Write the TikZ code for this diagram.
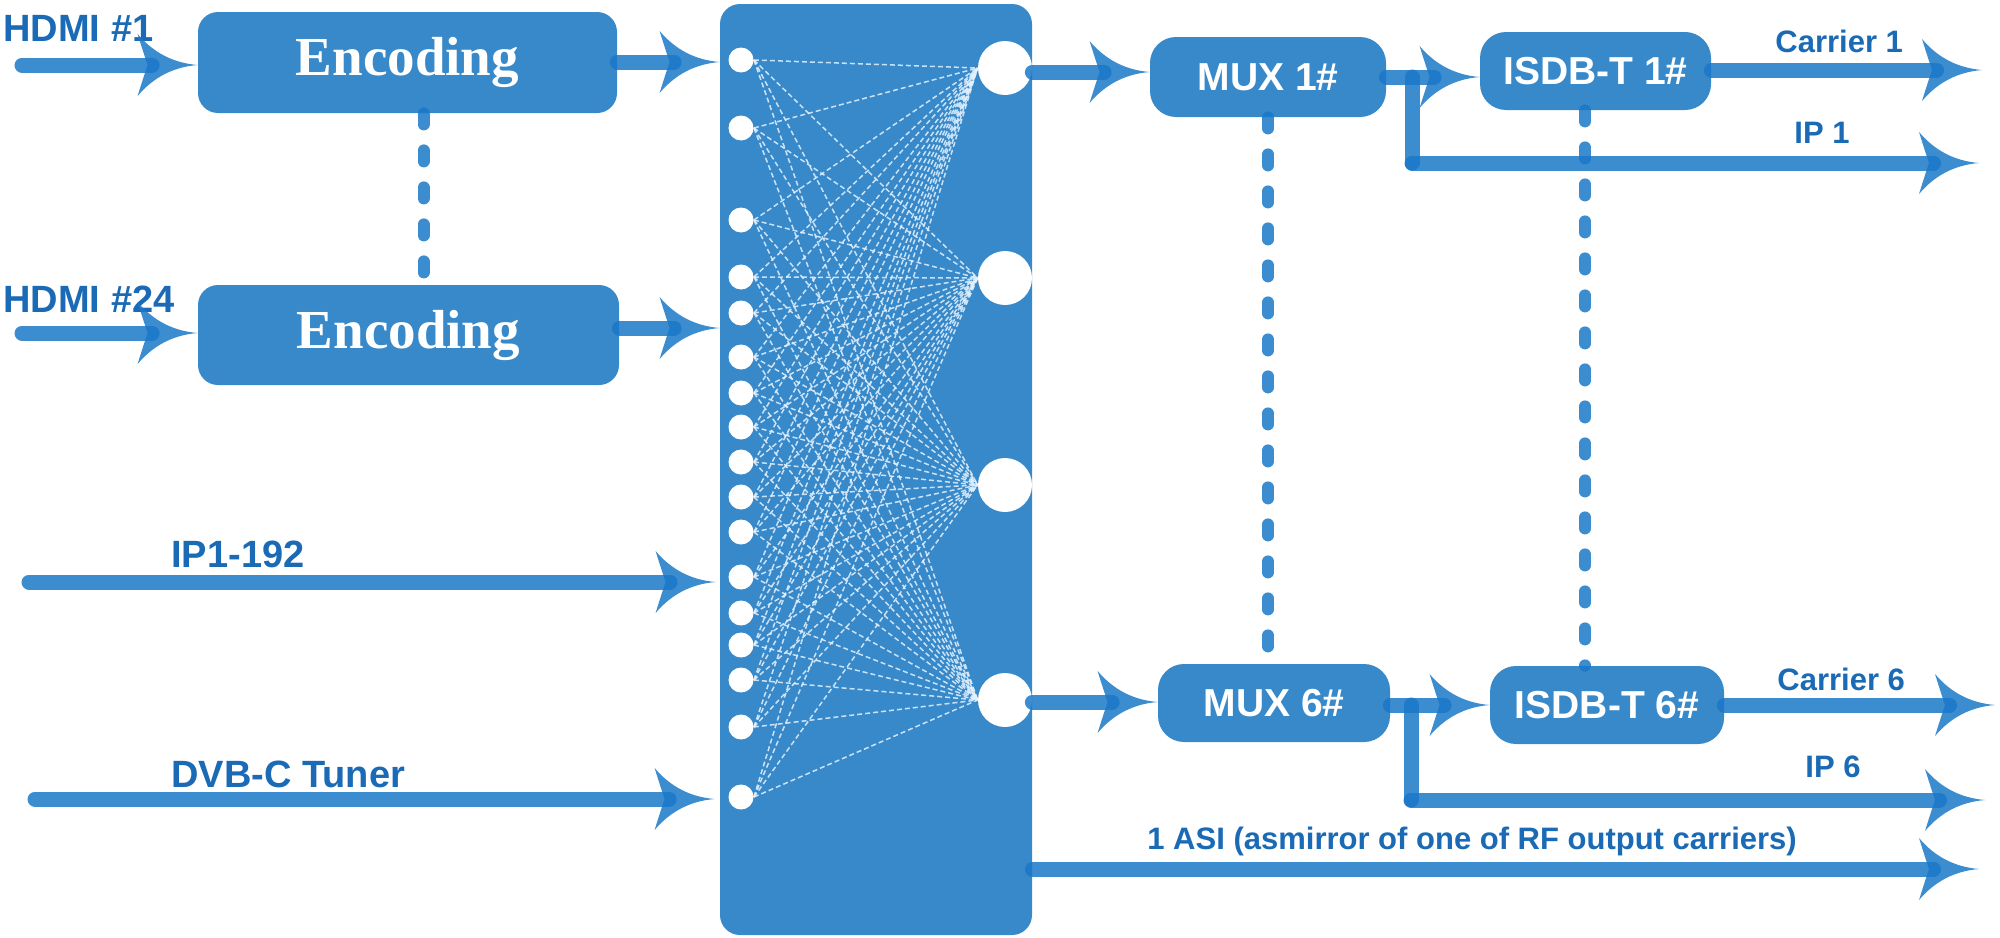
\documentclass[tikz,border=0pt]{standalone}
\usepackage{fontspec}
\setmainfont{Liberation Serif}
\setsansfont{Liberation Sans}
\definecolor{boxblue}{HTML}{3889CA}
\definecolor{linkblue}{HTML}{1A78C8}
\definecolor{labelblue}{HTML}{1A6AB6}
\definecolor{meshwhite}{HTML}{E4F2FF}

\pgfdeclarearrow{
  name = Swoop,
  setup code = {
    \pgfarrowssettipend{0pt}
    \pgfarrowssetlineend{-22.75pt}
    \pgfarrowssetbackend{-30pt}
    \pgfarrowssetvisualbackend{-25pt}
    \pgfarrowsupperhullpoint{-30pt}{15.5pt}
    \pgfarrowshullpoint{0pt}{0pt}
  },
  drawing code = {
    \pgfpathmoveto{\pgfqpoint{0pt}{0pt}}
    \pgfpathcurveto{\pgfqpoint{-12pt}{1pt}}{\pgfqpoint{-22pt}{6pt}}{\pgfqpoint{-30pt}{15.5pt}}
    \pgfpathcurveto{\pgfqpoint{-28pt}{9pt}}{\pgfqpoint{-26pt}{3pt}}{\pgfqpoint{-25pt}{0pt}}
    \pgfpathcurveto{\pgfqpoint{-26pt}{-3pt}}{\pgfqpoint{-28pt}{-9pt}}{\pgfqpoint{-30pt}{-15.5pt}}
    \pgfpathcurveto{\pgfqpoint{-22pt}{-6pt}}{\pgfqpoint{-12pt}{-1pt}}{\pgfqpoint{0pt}{0pt}}
    \pgfpathclose
    \pgfusepathqfill
  }
}

\begin{document}
\begin{tikzpicture}[x=0.5pt,y=-0.5pt,
  flow/.style={draw=linkblue, line width=7.5pt, line cap=round, opacity=0.85, -Swoop},
  seg/.style={draw=linkblue, line width=7.5pt, line cap=round, opacity=0.85},
  encbox/.style={fill=boxblue, draw=none, rounded corners=10pt, inner sep=0pt, text=white,
    font=\rmfamily\bfseries\fontsize{27.5}{30}\selectfont},
  pill/.style={fill=boxblue, draw=none, rounded corners=13pt, inner sep=0pt, text=white,
    font=\sffamily\bfseries\fontsize{19.5}{22}\selectfont},
  biglabel/.style={text=labelblue, anchor=base west, inner sep=0pt,
    font=\sffamily\bfseries\fontsize{19}{22}\selectfont},
  smalllabel/.style={text=labelblue, anchor=base west, inner sep=0pt,
    font=\sffamily\bfseries\fontsize{15.5}{18}\selectfont},
  dotlink/.style={draw=linkblue, line width=6pt, line cap=round, dash pattern=on 5.5pt off 13pt, opacity=0.85},
  incirc/.style={circle, fill=white, draw=none, minimum size=12.5pt, inner sep=0pt},
  outcirc/.style={circle, fill=white, draw=none, minimum size=27pt, inner sep=0pt},
  xlink/.style={draw=meshwhite, line width=0.75pt, dash pattern=on 2.5pt off 1.5pt, opacity=0.85}
]
\useasboundingbox (0,0) rectangle (2000,937);
\fill[white] (0,0) rectangle (2000,937);

% switching matrix
\node[fill=boxblue, draw=none, rounded corners=10pt, inner sep=0pt,
      minimum width=156pt, minimum height=465.5pt] (mtx) at (876,469.5) {};

% input / output ports
\foreach \y [count=\i] in {60,128,220,277,313,357,393,427,462,497,532,577,613,645,680,727,797}
  \node[incirc] (i\i) at (741,\y) {};
\foreach \y [count=\j] in {68,278,485,700}
  \node[outcirc] (o\j) at (1005,\y) {};
\foreach \i in {1,...,17}
  \foreach \j in {1,...,4}
    \draw[xlink] (i\i.east) -- (o\j.west);

% blocks
\node[encbox, minimum width=209.5pt, minimum height=50.5pt] (enc1) at (407.5,62.5) {Encoding};
\node[encbox, minimum width=210.5pt, minimum height=50pt] (enc2) at (408.5,335) {Encoding};
\node[pill, minimum width=118pt, minimum height=40pt] (mux1) at (1268,77) {MUX 1\#};
\node[pill, minimum width=115.5pt, minimum height=39pt] (isdb1) at (1595.5,71) {ISDB-T 1\#};
\node[pill, minimum width=116pt, minimum height=39pt] (mux6) at (1274,703) {MUX 6\#};
\node[pill, minimum width=117pt, minimum height=39pt] (isdb6) at (1607,705) {ISDB-T 6\#};

% labels
\node[biglabel] (lh1) at (3,41) {HDMI \#1};
\node[biglabel] (lh24) at (3,312) {HDMI \#24};
\node[biglabel] (lip) at (171,567) {IP1-192};
\node[biglabel] (ldvb) at (171,787) {DVB-C Tuner};
\node[smalllabel] (lc1) at (1775,52) {Carrier 1};
\node[smalllabel] (lip1) at (1794,143) {IP 1};
\node[smalllabel] (lc6) at (1777,690) {Carrier 6};
\node[smalllabel] (lip6) at (1805,777) {IP 6};
\node[smalllabel] (lasi) at (1147,849) {1 ASI (asmirror of one of RF output carriers)};

% free ends
\coordinate (h1s) at (22,65);
\coordinate (h24s) at (22,333);
\coordinate (ips) at (29,582);
\coordinate (dvbs) at (35,799);
\coordinate (c1e) at (1982,70);
\coordinate (b1) at (1412,77);
\coordinate (b1c) at (1412,163);
\coordinate (ip1e) at (1979,163);
\coordinate (c6e) at (1995,705);
\coordinate (b6) at (1411,705);
\coordinate (b6c) at (1411,800);
\coordinate (ip6e) at (1985,800);
\coordinate (asie) at (1979,869);

% dotted ellipsis links
\draw[dotlink] ([xshift=8pt]enc1.south) -- ([xshift=8pt]enc1.south |- enc2.north);
\draw[dotlink] (mux1.south) -- (mux1.south |- mux6.north);
\draw[dotlink] ([xshift=-5.25pt]isdb1.south) -- ([xshift=-5.25pt]isdb1.south |- isdb6.north);

% inputs
\draw[flow] (h1s) -- (h1s -| enc1.west);
\draw[flow] (h24s) -- (h24s -| enc2.west);
\draw[flow] (enc1.east |- 0,62) -- (mtx.west |- 0,62);
\draw[flow] (enc2.east |- 0,328) -- (mtx.west |- 0,328);
\draw[flow, shorten >=2pt] (ips) -- (ips -| mtx.west);
\draw[flow, shorten >=2.5pt] (dvbs) -- (dvbs -| mtx.west);

% outputs, channel 1
\draw[flow] (mtx.east |- 0,72) -- (mux1.west |- 0,72);
\draw[flow] (mux1.east |- b1) -- (isdb1.west |- b1);
\draw[flow] (isdb1.east |- c1e) -- (c1e);
\draw[seg] (b1) -- (b1c);
\draw[flow] (b1c) -- (ip1e);

% outputs, channel 6
\draw[flow] (mtx.east |- 0,702) -- (mux6.west |- 0,702);
\draw[flow] (mux6.east |- b6) -- (isdb6.west |- b6);
\draw[flow] (isdb6.east |- c6e) -- (c6e);
\draw[seg] (b6) -- (b6c);
\draw[flow] (b6c) -- (ip6e);

% ASI
\draw[flow] (mtx.east |- asie) -- (asie);
\end{tikzpicture}
\end{document}
